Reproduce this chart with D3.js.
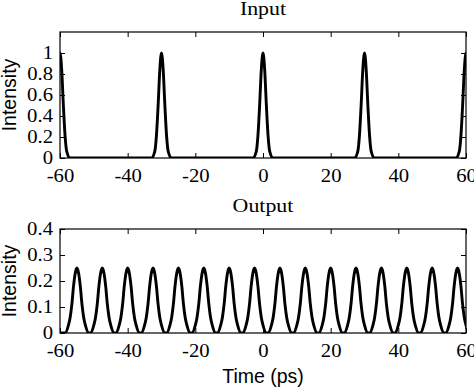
<!DOCTYPE html>
<html>
<head>
<meta charset="utf-8">
<script src="https://d3js.org/d3.v7.min.js"></script>
<style>
  body { margin: 0; background: #fff; }
  .tick text { fill: #000; transform-box: fill-box; transform: scaleX(1.15); }
  .xaxis .tick text { transform-origin: 50% 50%; }
  .yaxis .tick text { transform-origin: 100% 50%; }
  .tick line { stroke: #000; stroke-width: 1; }
  .title { transform-box: fill-box; transform-origin: 50% 50%; transform: scaleX(1.15); }
  .trace { fill: none; stroke: #000; stroke-width: 2.9; stroke-linejoin: round; }
</style>
</head>
<body>
<div id="chart"></div>
<script>
// axis ticks
var xTicks = [-60, -40, -20, 0, 20, 40, 60];
var xTickLabels = ["-60", "-40", "-20", "0", "20", "40", "60"];
var inYTicks = [0, 0.2, 0.4, 0.6, 0.8, 1];
var inYTickLabels = ["0", "0.2", "0.4", "0.6", "0.8", "1"];
var outYTicks = [0, 0.1, 0.2, 0.3, 0.4];
var outYTickLabels = ["0", "0.1", "0.2", "0.3", "0.4"];

// input pulse train: peak times (ps) and one pulse profile
var inputCenters = [-60, -30, 0, 30, 60];
var inputOffsets = [-3, -2, -1.5, -1, -0.5, 0, 0.5, 1, 1.5, 2, 3];
var inputShape = [0, 0.06, 0.21, 0.5, 0.84, 1, 0.84, 0.5, 0.21, 0.06, 0];

// output pulse train
var outputCenters = [-55, -47.5, -40, -32.5, -25, -17.5, -10, -2.5, 5, 12.5, 20, 27.5, 35, 42.5, 50, 57.5];
var outputOffsets = [-3.5, -2.5, -2, -1.5, -1, -0.5, 0, 0.5, 1, 1.5, 2, 2.5, 3.5];
var outputShape = [0, 0.03, 0.06, 0.11, 0.18, 0.23, 0.25, 0.23, 0.18, 0.11, 0.06, 0.03, 0];

var SERIF = "Liberation Serif", SANS = "Liberation Sans";
var W = 474, H = 388;
var svg = d3.select("#chart").append("svg").attr("width", W).attr("height", H);

function buildSeries(centers, offsets, shape, t0) {
    var pts = [];
    centers.forEach(function (c) {
        offsets.forEach(function (o, i) { pts.push([c + o, shape[i]]); });
    });
    if (pts[0][0] > t0) pts.unshift([t0, 0]);
    return pts;
}

function panel(opt) {
    var x = d3.scaleLinear().domain([-60, 60]).range([opt.left, opt.right]);
    var y = d3.scaleLinear().domain(opt.yDomain).range([opt.bottom, opt.top]);
    var g = svg.append("g");

    var clipId = "clip-" + opt.name;
    svg.append("clipPath").attr("id", clipId).append("rect")
        .attr("x", opt.left).attr("y", opt.top)
        .attr("width", opt.right - opt.left).attr("height", opt.bottom - opt.top);

    // bottom axis with labels
    var xb = g.append("g").attr("class", "xaxis").attr("transform", "translate(0," + opt.bottom + ")")
        .call(d3.axisBottom(x).tickValues(xTicks).tickSize(-5).tickPadding(11)
            .tickFormat(function (d, i) { return xTickLabels[i]; }));
    // top axis, ticks only
    var xt = g.append("g").attr("transform", "translate(0," + opt.top + ")")
        .call(d3.axisTop(x).tickValues(xTicks).tickSize(-5).tickFormat(""));
    // left axis with labels
    var yl = g.append("g").attr("class", "yaxis").attr("transform", "translate(" + opt.left + ",0)")
        .call(d3.axisLeft(y).tickValues(opt.yTicks).tickSize(-5).tickPadding(7)
            .tickFormat(function (d, i) { return opt.yLabels[i]; }));
    // right axis, ticks only
    var yr = g.append("g").attr("transform", "translate(" + opt.right + ",0)")
        .call(d3.axisRight(y).tickValues(opt.yTicks).tickSize(-5).tickFormat(""));
    [xb, xt, yl, yr].forEach(function (a) {
        a.select(".domain").remove();
        a.attr("font-family", SERIF).attr("font-size", 18);
    });

    g.append("rect")
        .attr("x", opt.left).attr("y", opt.top)
        .attr("width", opt.right - opt.left).attr("height", opt.bottom - opt.top)
        .attr("fill", "none").attr("stroke", "#000").attr("stroke-width", 1.2);

    var line = d3.line()
        .x(function (d) { return x(d[0]); })
        .y(function (d) { return y(d[1]); })
        .curve(d3.curveMonotoneX);

    g.append("path").datum(opt.data)
        .attr("class", "trace")
        .attr("clip-path", "url(#" + clipId + ")")
        .attr("d", line);

    g.append("text").attr("class", "title")
        .attr("x", (opt.left + opt.right) / 2).attr("y", opt.titleY)
        .attr("text-anchor", "middle")
        .attr("font-family", SERIF).attr("font-size", 19)
        .text(opt.title);

    g.append("text")
        .attr("transform", "translate(16," + ((opt.top + opt.bottom) / 2) + ") rotate(-90)")
        .attr("text-anchor", "middle")
        .attr("font-family", SANS).attr("font-size", 19.5)
        .text("Intensity");
}

panel({
    name: "in", title: "Input", titleY: 15,
    left: 60, right: 466, top: 32, bottom: 158,
    yDomain: [0, 1.2], yTicks: inYTicks, yLabels: inYTickLabels,
    data: buildSeries(inputCenters, inputOffsets, inputShape, -60)
});

panel({
    name: "out", title: "Output", titleY: 212,
    left: 60, right: 466, top: 229, bottom: 333,
    yDomain: [0, 0.4], yTicks: outYTicks, yLabels: outYTickLabels,
    data: buildSeries(outputCenters, outputOffsets, outputShape, -60)
});

svg.append("text")
    .attr("x", 263).attr("y", 383)
    .attr("text-anchor", "middle")
    .attr("font-family", SANS).attr("font-size", 19.5)
    .text("Time (ps)");
</script>
</body>
</html>
